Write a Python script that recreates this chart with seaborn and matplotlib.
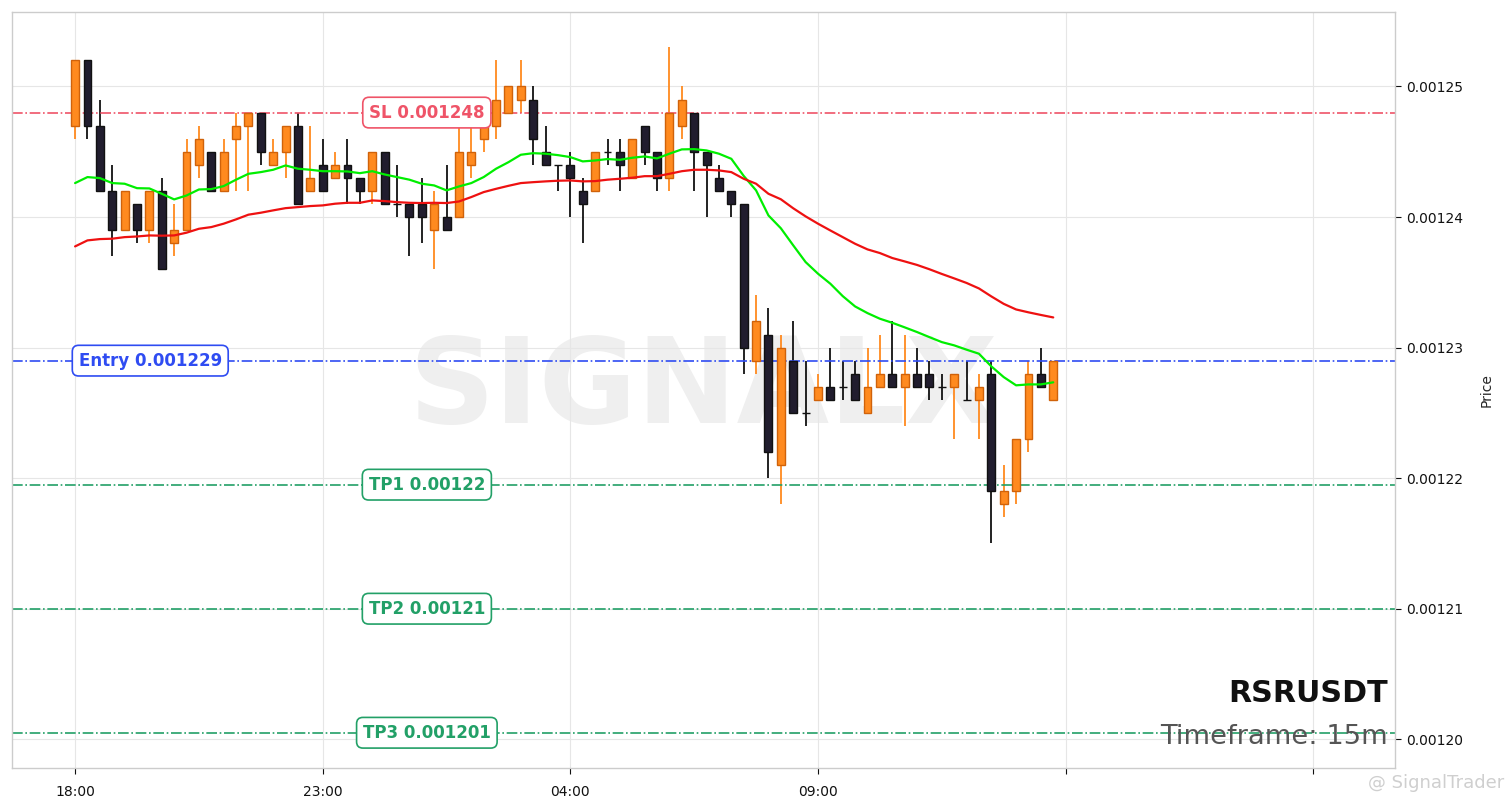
import numpy as np
import pandas as pd
import matplotlib
matplotlib.use("Agg")
import matplotlib.pyplot as plt
import matplotlib.transforms as mtransforms
from matplotlib.ticker import FormatStrFormatter
import seaborn as sns

# ---------------- data (prices in units of 1e-6) ----------------
PRICE_UNIT = 1e-6
symbol = "RSRUSDT"
timeframe = "15m"

open_u = [1247, 1252, 1247, 1242, 1239, 1241, 1239, 1242, 1238, 1239,
          1244, 1245, 1242, 1246, 1247, 1248, 1244, 1245, 1247, 1242,
          1244, 1243, 1244, 1243, 1242, 1245, 1241, 1241, 1241, 1239,
          1240, 1240, 1244, 1246, 1247, 1248, 1249, 1249, 1245, 1244,
          1244, 1242, 1242, 1245, 1245, 1243, 1247, 1245, 1243, 1247,
          1248, 1245, 1243, 1242, 1241, 1229, 1231, 1221, 1229, 1225,
          1226, 1227, 1227, 1228, 1225, 1227, 1228, 1227, 1228, 1228,
          1227, 1227, 1226, 1226, 1228, 1218, 1219, 1223, 1228, 1226]
high_u = [1252, 1252, 1249, 1244, 1242, 1241, 1242, 1243, 1241, 1246,
          1247, 1245, 1246, 1248, 1248, 1248, 1246, 1247, 1248, 1247,
          1246, 1245, 1246, 1243, 1245, 1245, 1244, 1241, 1243, 1242,
          1244, 1247, 1247, 1249, 1252, 1250, 1252, 1250, 1247, 1244,
          1245, 1243, 1245, 1246, 1246, 1246, 1247, 1245, 1253, 1250,
          1248, 1245, 1244, 1242, 1241, 1234, 1233, 1231, 1232, 1229,
          1228, 1230, 1229, 1229, 1230, 1231, 1232, 1231, 1230, 1229,
          1228, 1228, 1229, 1228, 1229, 1221, 1223, 1229, 1230, 1229]
low_u = [1246, 1246, 1242, 1237, 1239, 1238, 1238, 1236, 1237, 1239,
         1243, 1242, 1242, 1242, 1242, 1244, 1244, 1243, 1241, 1242,
         1242, 1243, 1241, 1241, 1241, 1241, 1240, 1237, 1238, 1236,
         1239, 1240, 1243, 1245, 1246, 1248, 1248, 1244, 1244, 1242,
         1240, 1238, 1242, 1244, 1242, 1243, 1244, 1242, 1242, 1246,
         1242, 1240, 1242, 1240, 1228, 1228, 1220, 1218, 1225, 1224,
         1226, 1226, 1226, 1226, 1225, 1227, 1227, 1224, 1227, 1226,
         1226, 1223, 1226, 1223, 1215, 1217, 1218, 1222, 1227, 1226]
close_u = [1252, 1247, 1242, 1239, 1242, 1239, 1242, 1236, 1239, 1245,
           1246, 1242, 1245, 1247, 1248, 1245, 1245, 1247, 1241, 1243,
           1242, 1244, 1243, 1242, 1245, 1241, 1241, 1240, 1240, 1241,
           1239, 1245, 1245, 1247, 1249, 1250, 1250, 1246, 1244, 1244,
           1243, 1241, 1245, 1245, 1244, 1246, 1245, 1243, 1248, 1249,
           1245, 1244, 1242, 1241, 1230, 1232, 1222, 1230, 1225, 1225,
           1227, 1226, 1227, 1226, 1227, 1228, 1227, 1228, 1227, 1227,
           1227, 1228, 1226, 1227, 1219, 1219, 1223, 1228, 1227, 1229]

ema_fast_u = [1242.60, 1243.06, 1242.98, 1242.60, 1242.55, 1242.21, 1242.19, 1241.78, 1241.35, 1241.65,
              1242.11, 1242.14, 1242.37, 1242.86, 1243.31, 1243.44, 1243.62, 1243.95, 1243.70, 1243.62,
              1243.51, 1243.51, 1243.49, 1243.36, 1243.51, 1243.26, 1243.06, 1242.86, 1242.55, 1242.42,
              1242.04, 1242.34, 1242.60, 1243.06, 1243.70, 1244.20, 1244.77, 1244.89, 1244.85, 1244.74,
              1244.59, 1244.26, 1244.33, 1244.44, 1244.38, 1244.54, 1244.64, 1244.49, 1244.85, 1245.18,
              1245.20, 1245.10, 1244.85, 1244.46, 1243.15, 1242.04, 1240.12, 1239.14, 1237.83, 1236.55,
              1235.66, 1234.89, 1233.94, 1233.15, 1232.64, 1232.21, 1231.90, 1231.55, 1231.19, 1230.80,
              1230.42, 1230.17, 1229.84, 1229.53, 1228.56, 1227.74, 1227.11, 1227.18, 1227.18, 1227.34]
ema_slow_u = [1237.75, 1238.21, 1238.31, 1238.34, 1238.46, 1238.51, 1238.59, 1238.57, 1238.59, 1238.80,
              1239.10, 1239.23, 1239.49, 1239.82, 1240.18, 1240.33, 1240.51, 1240.68, 1240.76, 1240.84,
              1240.89, 1241.02, 1241.09, 1241.09, 1241.27, 1241.22, 1241.14, 1241.09, 1241.07, 1241.09,
              1241.07, 1241.19, 1241.53, 1241.91, 1242.16, 1242.39, 1242.60, 1242.67, 1242.73, 1242.78,
              1242.80, 1242.73, 1242.75, 1242.86, 1242.93, 1243.01, 1243.13, 1243.13, 1243.31, 1243.51,
              1243.62, 1243.62, 1243.57, 1243.44, 1242.93, 1242.55, 1241.78, 1241.36, 1240.67, 1240.05,
              1239.49, 1238.97, 1238.46, 1237.95, 1237.52, 1237.24, 1236.86, 1236.60, 1236.33, 1236.00,
              1235.64, 1235.30, 1234.95, 1234.53, 1233.92, 1233.35, 1232.92, 1232.70, 1232.50, 1232.31]

level_names = ["SL", "Entry", "TP1", "TP2", "TP3"]
level_values = [0.001248, 0.001229, 0.0012195, 0.00121, 0.0012005]
level_texts = ["SL 0.001248", "Entry 0.001229", "TP1 0.00122", "TP2 0.00121", "TP3 0.001201"]
level_colors = ["#ef5468", "#2f4cf2", "#22a067", "#22a067", "#22a067"]
level_label_x = [0.3, 0.1, 0.3, 0.3, 0.3]

x_tick_pos = [0, 20, 40, 60, 80, 100]
x_tick_labels = ["18:00", "23:00", "04:00", "09:00", "", ""]
y_ticks = [0.00120, 0.00121, 0.00122, 0.00123, 0.00124, 0.00125]

# ---------------- build frame ----------------
n = len(open_u)
df = pd.DataFrame({
    "idx": np.arange(n),
    "open": np.array(open_u) * PRICE_UNIT,
    "high": np.array(high_u) * PRICE_UNIT,
    "low": np.array(low_u) * PRICE_UNIT,
    "close": np.array(close_u) * PRICE_UNIT,
    "ema_fast": np.array(ema_fast_u) * PRICE_UNIT,
    "ema_slow": np.array(ema_slow_u) * PRICE_UNIT,
})
df["up"] = df["close"] > df["open"]

# ---------------- style ----------------
sns.set_theme(style="whitegrid")
plt.rcParams['font.family'] = ['DejaVu Sans']

UP_FILL, UP_EDGE = "#ff8a1f", "#d0620a"
DN_FILL, DN_EDGE = "#211d2e", "#111111"

fig = plt.figure(figsize=(15.12, 8.08), dpi=100)
fig.patch.set_facecolor("white")
ax = fig.add_axes([0.0079, 0.0495, 0.9147, 0.9356])
ax.set_facecolor("white")

# watermark
ax.text(0.5, 0.5, "SIGNALX", transform=ax.transAxes, ha="center", va="center",
        fontsize=86, fontweight="bold", color="#efefef", zorder=0.5)

# wicks
wick_colors = np.where(df["up"], UP_FILL, "#111111")
ax.vlines(df["idx"], df["low"], df["high"], colors=wick_colors, linewidth=1.3, zorder=2)

# bodies
body_bottom = np.minimum(df["open"], df["close"])
body_height = (df["close"] - df["open"]).abs()
ax.bar(df["idx"], body_height, bottom=body_bottom, width=0.64,
       color=np.where(df["up"], UP_FILL, DN_FILL),
       edgecolor=np.where(df["up"], UP_EDGE, DN_EDGE), linewidth=1.0, zorder=3)

# moving averages
sns.lineplot(data=df, x="idx", y="ema_fast", ax=ax, color="#00ee00", linewidth=1.6, zorder=4)
sns.lineplot(data=df, x="idx", y="ema_slow", ax=ax, color="#ee1111", linewidth=1.6, zorder=4)

# levels
trans = mtransforms.blended_transform_factory(ax.transAxes, ax.transData)
for val, txt, col, lx in zip(level_values, level_texts, level_colors, level_label_x):
    ax.axhline(val, color=col, linestyle="-.", linewidth=1.2, zorder=2.5)
    ax.text(lx, val, txt, transform=trans, ha="center", va="center", fontsize=12,
            fontweight="bold", color=col, zorder=6,
            bbox=dict(boxstyle="round,pad=0.38", fc="white", ec=col, lw=1.2))

# title texts
ax.text(0.995, 0.099, symbol, transform=ax.transAxes, ha="right", va="center",
        fontsize=21.7, fontweight="bold", color="#111111", zorder=7)
ax.text(0.995, 0.041, f"Timeframe: {timeframe}", transform=ax.transAxes, ha="right",
        va="center", fontsize=19.7, color="#555555", zorder=7)

# axes
ax.set_xlim(-5.1, 106.6)
ax.set_ylim(0.0011978, 0.0012557)
ax.set_xticks(x_tick_pos)
ax.set_xticklabels(x_tick_labels)
ax.set_yticks(y_ticks)
ax.yaxis.set_major_formatter(FormatStrFormatter("%.5f"))
ax.yaxis.tick_right()
ax.yaxis.set_label_position("right")
ax.set_ylabel("Price", fontsize=10, labelpad=12)
ax.set_xlabel("")
ax.tick_params(axis="both", labelsize=10, colors="#111111", length=4, width=0.8,
               direction="out")
ax.tick_params(axis="x", bottom=True, pad=8)
ax.tick_params(axis="y", right=True, left=False, pad=4)
ax.grid(True, color="#e6e6e6", linewidth=0.8)
ax.set_axisbelow(True)
for sp in ax.spines.values():
    sp.set_color("#cccccc")
    sp.set_linewidth(1.0)
if ax.get_legend() is not None:
    ax.get_legend().remove()

fig.text(0.995, 0.031, "@ SignalTrader", ha="right", va="center", fontsize=13,
         color="#cfcfcf")

fig.savefig("out.png", dpi=100, facecolor="white")
